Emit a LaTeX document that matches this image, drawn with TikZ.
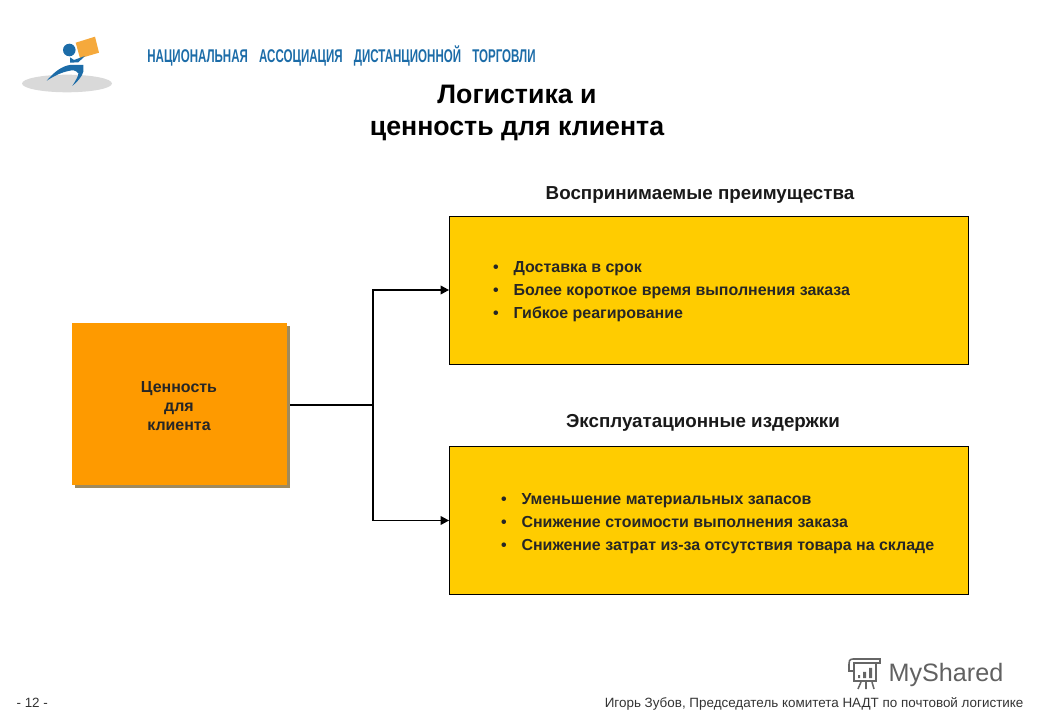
\documentclass[tikz,border=0pt]{standalone}
\usepackage{fontspec}
\setmainfont{Liberation Sans}
\usetikzlibrary{arrows.meta}
\begin{document}
\begin{tikzpicture}[x=0.025cm,y=-0.025cm,thick]
    %
    % `valuebox' is the orange box, `itembox' the two yellow ones.
    % `item' is used for the lines of the lists.
    \tikzstyle{valuebox} = [draw=none,fill=orange1,minimum width=214.5pt*0.711,minimum height=163pt*0.711,inner sep=0pt]
    \tikzstyle{itembox} = [draw=black,line width=0.6pt,fill=yellow1,minimum width=519pt*0.711,minimum height=148pt*0.711,inner sep=0pt]
    \tikzstyle{line} = [inner sep=0pt,text height=8pt,text depth=2pt]
    \tikzstyle{title} = [line,font=\bfseries\fontsize{19}{22}\selectfont,text height=13pt,text depth=4pt]
    \tikzstyle{head} = [line,font=\bfseries\fontsize{13.35}{16}\selectfont,text=black!90]
    \tikzstyle{item} = [line,anchor=west,font=\bfseries\fontsize{11.35}{13}\selectfont,text=black!85]
    \tikzstyle{bullet} = [line,font=\bfseries\fontsize{11.35}{13}\selectfont,text=black!85]
    \tikzstyle{foot} = [line,font=\fontsize{9.55}{11}\selectfont,text=black!80]
    \tikzstyle{link} = [line width=1.4pt,black]
    \definecolor{orange1}{HTML}{FE9A00}
    \definecolor{yellow1}{HTML}{FFCC00}
    \definecolor{shadow1}{HTML}{A08A5C}
    \definecolor{blue1}{HTML}{1C6CA8}
    \definecolor{box1}{HTML}{F5A93C}
    %
    \useasboundingbox (0,0) rectangle (1040,720);
    %
    % Logo
    \fill[black!15] (67,83.5) ellipse (45 and 8.8);
    \fill[box1] (75.7,42.7) -- (95,36.7) -- (99,52.7) -- (80,58.3) -- cycle;
    \fill[blue1] (69.3,50) circle (6.3);
    \fill[blue1] (70,57.3) -- (74,60) -- (85,56) -- (78.3,62.3) -- (70,62.7) -- cycle;
    \fill[blue1] (46.7,80.7) .. controls (54,72) and (62,66) .. (70,65) -- (83.3,65) -- (83.3,71.7) .. controls (82,77) and (77,82) .. (72.3,86) .. controls (76,80) and (79,75) .. (78.3,73.3) .. controls (76,70) and (72,70) .. (70,70.7) .. controls (62,72) and (54,76) .. (46.7,80.7) -- cycle;
    \node[anchor=west,inner sep=0pt,text=blue1,font=\bfseries\fontsize{11.4}{13}\selectfont,xscale=0.72,yscale=1.15] (assoc) at (147,55.5) {НАЦИОНАЛЬНАЯ\hspace{11.1pt}АССОЦИАЦИЯ\hspace{11.1pt}ДИСТАНЦИОННОЙ\hspace{11.1pt}ТОРГОВЛИ};
    %
    % Title
    \node[title] (title1) at (517,97) {Логистика и};
    \node[title] (title2) at (517,129) {ценность для клиента};
    %
    % Left box
    \fill[shadow1] (75,326) rectangle (289.5,488);
    \node[valuebox] (value) at (179.5,404) {};
    \node[bullet] (value1) at (179,388) {Ценность};
    \node[bullet] (value2) at (179,407) {для};
    \node[bullet] (value3) at (179,426) {клиента};
    %
    % Right boxes
    \node[head] (head1) at (700,195) {Воспринимаемые преимущества};
    \node[itembox] (box1) at (709,290) {};
    \node[head] (head2) at (703,423) {Эксплуатационные издержки};
    \node[itembox] (box2) at (709,520.5) {};
    %
    % List 1
    \node[bullet] (b11) at (496,268) {•};
    \node[item] (i11) at (513,268) {Доставка в срок};
    \node[bullet] (b12) at (496,291) {•};
    \node[item] (i12) at (513,291) {Более короткое время выполнения заказа};
    \node[bullet] (b13) at (496,314) {•};
    \node[item] (i13) at (513,314) {Гибкое реагирование};
    %
    % List 2
    \node[bullet] (b21) at (504,500) {•};
    \node[item] (i21) at (521,500) {Уменьшение материальных запасов};
    \node[bullet] (b22) at (504,523) {•};
    \node[item] (i22) at (521,523) {Снижение стоимости выполнения заказа};
    \node[bullet] (b23) at (504,546) {•};
    \node[item] (i23) at (521,546) {Снижение затрат из-за отсутствия товара на складе};
    %
    % Connectors
    \coordinate (start) at (290,405);
    \coordinate (fork) at (373,405);
    \draw[link] (start) -- (fork);
    \draw[link,-{Triangle[length=6pt,width=6pt]}] (fork) |- (box1.west);
    \draw[link,-{Triangle[length=6pt,width=6pt]}] (fork) |- (box2.west);
    %
    % Watermark
    \node[anchor=west,inner sep=0pt,text=black!62,font=\fontsize{17.9}{21}\selectfont] (shared) at (888,675) {MyShared};
    \draw[black!60,line width=1.1pt] (853,659) -- (880,659) -- (880,663) -- (853,663) (853,659) .. controls (849,659) and (849,662) .. (849,664) -- (849,671) -- (853,671);
    \draw[black!60,line width=1.1pt] (854,663) -- (854,681) -- (876,681) -- (876,663);
    \fill[black!60] (858,675) rectangle (860,678) (863,672) rectangle (866,678) (869,668) rectangle (872,678);
    \draw[black!60,line width=1.1pt] (861,682) -- (858,689) (866,682) -- (866,689) (872,682) -- (874,689);
    %
    % Footer
    \node[foot,anchor=west] (page) at (16,703) {- 12 -};
    \node[foot,anchor=east] (author) at (1024,703) {Игорь Зубов, Председатель комитета НАДТ по почтовой логистике};
    %
\end{tikzpicture}
\end{document}
